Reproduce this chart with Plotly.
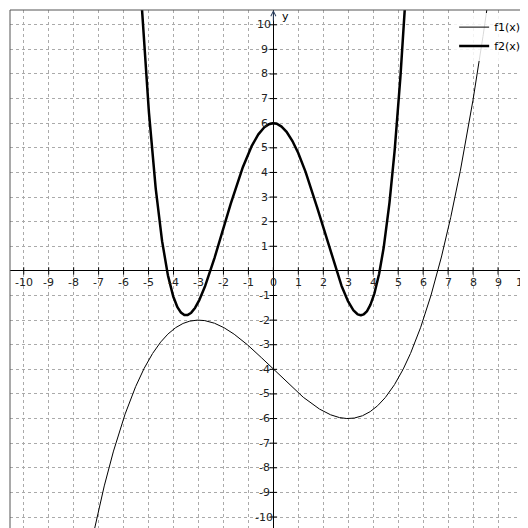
import numpy as np
import plotly.graph_objects as go

# cubic f1 = a3 x^3 + a1 x + a0 ; quartic f2 = b4 x^4 + b2 x^2 + b0 (coefficients)
f1_coef = [1/27, 0, -1, -4]
f2_coef = [0.052, 0, -1.274, 0, 6]
x_ticks = [-10, -9, -8, -7, -6, -5, -4, -3, -2, -1, 0, 1, 2, 3, 4, 5, 6, 7, 8, 9, 10]
y_ticks = [-10, -9, -8, -7, -6, -5, -4, -3, -2, -1, 1, 2, 3, 4, 5, 6, 7, 8, 9, 10]

xs = np.linspace(-10.6, 10.6, 2001)
y1 = np.polyval(f1_coef, xs)
y2 = np.polyval(f2_coef, xs)
y1 = np.where((y1 > 11) | (y1 < -11), np.nan, y1)
y2 = np.where((y2 > 11) | (y2 < -11), np.nan, y2)

fig = go.Figure()
fig.add_trace(go.Scatter(x=xs, y=y1, mode="lines", name="f1(x)", line=dict(color="black", width=1)))
fig.add_trace(go.Scatter(x=xs, y=y2, mode="lines", name="f2(x)", line=dict(color="black", width=2.5)))

ann = []
for t in x_ticks:
    ann.append(dict(x=t, y=0, text=str(t), showarrow=False, yshift=-12, font=dict(size=11, color="#222")))
for t in y_ticks:
    ann.append(dict(x=0, y=t, text=str(t), showarrow=False, xshift=-9, font=dict(size=11, color="#222")))
ann.append(dict(x=10.15, y=0, text="x", showarrow=False, yshift=10, font=dict(size=11)))
ann.append(dict(x=0, y=10.35, text="y", showarrow=False, xshift=12, font=dict(size=11)))
ann.append(dict(x=10.45, y=0, ax=10.0, ay=0, axref="x", ayref="y", showarrow=True, arrowhead=5, arrowwidth=1, arrowsize=1, text=""))
ann.append(dict(x=0, y=10.6, ax=0, ay=10.1, axref="x", ayref="y", showarrow=True, arrowhead=5, arrowwidth=1, arrowsize=1, text=""))

shapes = [dict(type="line", xref="x", yref="y", x0=t, x1=t, y0=-0.15, y1=0.15, line=dict(color="black", width=1)) for t in x_ticks]
shapes += [dict(type="line", xref="x", yref="y", y0=t, y1=t, x0=-0.15, x1=0.15, line=dict(color="black", width=1)) for t in y_ticks]
shapes.append(dict(type="rect", xref="paper", yref="paper", x0=0, x1=1, y0=0, y1=1, line=dict(color="#555", width=1)))

fig.update_layout(
    width=528, height=528, margin=dict(l=2, r=3, t=2, b=3, autoexpand=False),
    plot_bgcolor="white", paper_bgcolor="white",
    font=dict(family="DejaVu Sans", size=11, color="black"),
    xaxis=dict(range=[-10.55, 10.4], dtick=1, tick0=0, showticklabels=False, showgrid=True,
               gridcolor="#aaa", griddash="dot", gridwidth=1, zeroline=True, zerolinecolor="black", zerolinewidth=1),
    yaxis=dict(range=[-10.65, 10.6], dtick=1, tick0=0, showticklabels=False, showgrid=True,
               gridcolor="#aaa", griddash="dot", gridwidth=1, zeroline=True, zerolinecolor="black", zerolinewidth=1),
    legend=dict(x=0.985, y=0.995, xanchor="right", yanchor="top", bgcolor="rgba(255,255,255,0.85)",
                font=dict(size=11), tracegroupgap=0),
    annotations=ann, shapes=shapes,
)
fig.write_html("out.html")
